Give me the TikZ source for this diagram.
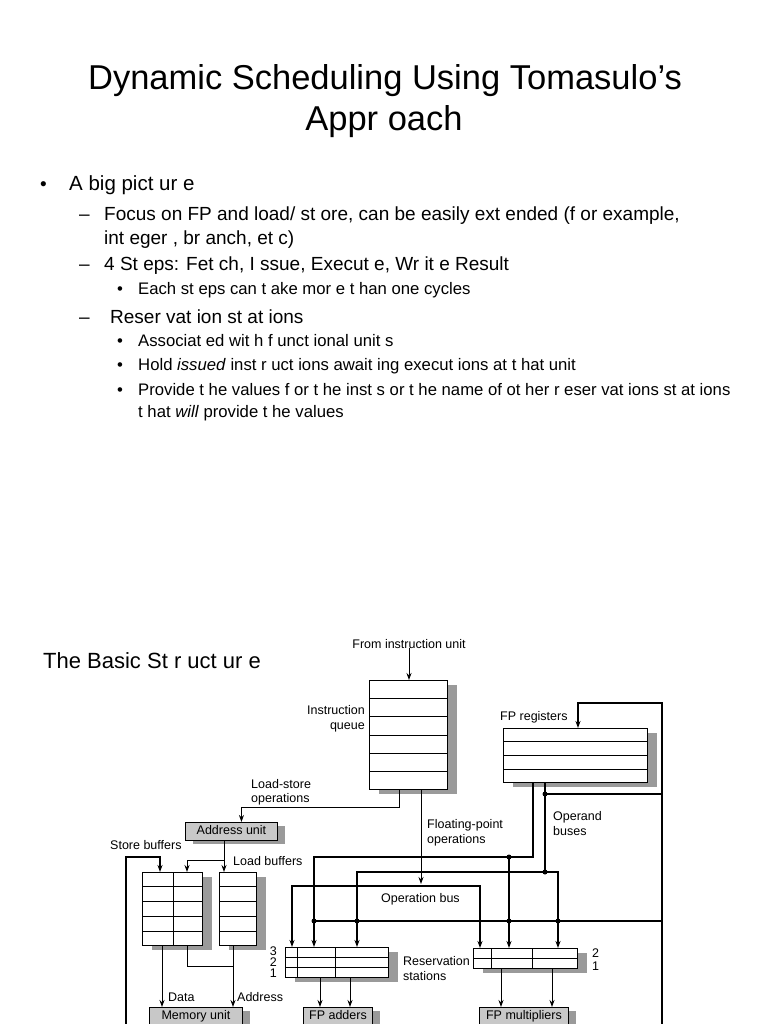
\documentclass[tikz,border=0pt]{standalone}
\usepackage{fontspec}
\setmainfont{Liberation Sans}
\usetikzlibrary{arrows.meta,calc,shadows}
\definecolor{unitgray}{HTML}{C8C8C8}
\definecolor{shadegray}{HTML}{9A9A9A}
\begin{document}
\begin{tikzpicture}[x=1pt,y=-1pt,
  titlef/.style={anchor=base, inner sep=0pt, font=\fontsize{34.5}{40}\selectfont},
  slide/.style={anchor=base west, inner sep=0pt, font=\fontsize{19}{22}\selectfont},
  subt/.style={anchor=base west, inner sep=0pt, font=\fontsize{16.7}{19}\selectfont},
  lab/.style={anchor=base west, inner sep=0pt, font=\fontsize{12.5}{14}\selectfont},
  labr/.style={lab, anchor=base east},
  labc/.style={lab, anchor=base},
  thinw/.style={line width=0.9pt},
  thickw/.style={line width=1.9pt},
  arr/.style={-{Stealth[length=7pt,width=5pt]}},
  barr/.style={{Stealth[length=7pt,width=5pt]}-{Stealth[length=7pt,width=5pt]}},
  regbox/.style={draw, line width=0.9pt, fill=white, inner sep=0pt, anchor=north west,
    drop shadow={shadow xshift=10pt, shadow yshift=-5pt, fill=shadegray, opacity=1}},
  unitbox/.style={draw, line width=0.9pt, fill=unitgray, inner sep=0pt, anchor=north west,
    font=\fontsize{12.5}{14}\selectfont, text height=9pt, text depth=3pt,
    drop shadow={shadow xshift=8pt, shadow yshift=-4pt, fill=shadegray, opacity=1}},
  dot/.style={circle, fill=black, inner sep=0pt, minimum size=5pt}
]
\useasboundingbox (0,0) rectangle (768,1024);
\clip (0,0) rectangle (768,1024);

% ---------------- slide text ----------------
\node[titlef] (title1) at (385,90) {Dynamic Scheduling Using Tomasulo’s};
\node[titlef] (title2) at (384,131) {Appr oach};

\node[slide] (b1) at (40,191) {•};
\node[slide, font=\fontsize{20.5}{24}\selectfont] (t1) at (69,191) {A big pict ur e};
\node[slide] (d1) at (79,221) {–};
\node[slide] (t2) at (104,221) {Focus on FP and load/ st ore, can be easily ext ended (f or example,};
\node[slide] (t3) at (104,244) {int eger , br anch, et c)};
\node[slide] (d2) at (79,270) {–};
\node[slide] (t4) at (104,270) {4 St eps: Fet ch, I ssue, Execut e, Wr it e Result};
\node[subt] (b2) at (117,294.5) {•};
\node[subt] (t5) at (138,294.5) {Each st eps can t ake mor e t han one cycles};
\node[slide] (d3) at (79,323) {–};
\node[slide] (t6) at (110,323) {Reser vat ion st at ions};
\node[subt] (b3) at (117,346.5) {•};
\node[subt] (t7) at (138,346.5) {Associat ed wit h f unct ional unit s};
\node[subt] (b4) at (117,370.5) {•};
\node[subt] (t8) at (138,370.5) {Hold \textit{issued} inst r uct ions await ing execut ions at t hat unit};
\node[subt] (b5) at (117,395.5) {•};
\node[subt] (t9) at (138,395.5) {Provide t he values f or t he inst s or t he name of ot her r eser vat ions st at ions};
\node[subt] (t10) at (138,417.5) {t hat \textit{will} provide t he values};

\node[slide, font=\fontsize{22}{26}\selectfont] (basic) at (43,668) {The Basic St r uct ur e};

% ---------------- boxes ----------------
\node[regbox, minimum width=78pt, minimum height=109pt] (iq) at (369,680) {};
\foreach \k in {1,...,5}
  \draw[thinw] ($(iq.north west)!\k/6!(iq.south west)$) -- ($(iq.north east)!\k/6!(iq.south east)$);

\node[regbox, minimum width=144pt, minimum height=54pt] (fpr) at (503,728) {};
\foreach \k in {1,...,3}
  \draw[thinw] ($(fpr.north west)!\k/4!(fpr.south west)$) -- ($(fpr.north east)!\k/4!(fpr.south east)$);

\node[unitbox, minimum width=92pt, minimum height=18pt] (adr) at (185,822) {Address unit};

\node[regbox, minimum width=60pt, minimum height=73pt] (sb) at (142,872) {};
\foreach \k in {1,...,4}
  \draw[thinw] ($(sb.north west)!\k/5!(sb.south west)$) -- ($(sb.north east)!\k/5!(sb.south east)$);
\draw[thinw] ($(sb.north west)+(31,0)$) -- ($(sb.south west)+(31,0)$);

\node[regbox, minimum width=37pt, minimum height=73pt] (lb) at (219,872) {};
\foreach \k in {1,...,4}
  \draw[thinw] ($(lb.north west)!\k/5!(lb.south west)$) -- ($(lb.north east)!\k/5!(lb.south east)$);

\node[unitbox, minimum width=93pt, minimum height=18pt] (mem) at (149,1007) {Memory unit};

\node[regbox, minimum width=103pt, minimum height=30pt] (rsa) at (285,947) {};
\foreach \k in {1,2}
  \draw[thinw] ($(rsa.north west)!\k/3!(rsa.south west)$) -- ($(rsa.north east)!\k/3!(rsa.south east)$);
\draw[thinw] ($(rsa.north west)+(12,0)$) -- ($(rsa.south west)+(12,0)$);
\draw[thinw] ($(rsa.north west)+(50,0)$) -- ($(rsa.south west)+(50,0)$);

\node[unitbox, minimum width=69pt, minimum height=18pt] (fpa) at (303,1007) {FP adders};

\node[regbox, minimum width=104pt, minimum height=20pt] (rsm) at (473,948) {};
\draw[thinw] ($(rsm.north west)!0.5!(rsm.south west)$) -- ($(rsm.north east)!0.5!(rsm.south east)$);
\draw[thinw] ($(rsm.north west)+(18,0)$) -- ($(rsm.south west)+(18,0)$);
\draw[thinw] ($(rsm.north west)+(59,0)$) -- ($(rsm.south west)+(59,0)$);

\node[unitbox, minimum width=89pt, minimum height=18pt] (fpm) at (479,1007) {FP multipliers};

% ---------------- labels ----------------
\node[labc] (fiu) at (409,648) {From instruction unit};
\node[labr] (iql1) at (365,714) {Instruction};
\node[labr] (iql2) at (365,729) {queue};
\node[lab] (fprl) at (500,720) {FP registers};
\node[lab] (lsl1) at (251,788) {Load-store};
\node[lab] (lsl2) at (251,802) {operations};
\node[lab] (sbl) at (110,849) {Store buffers};
\node[lab] (lbl) at (233,865) {Load buffers};
\node[lab] (fpl1) at (427,828) {Floating-point};
\node[lab] (fpl2) at (427,843) {operations};
\node[lab] (obl1) at (553,820) {Operand};
\node[lab] (obl2) at (553,835) {buses};
\node[lab] (opb) at (381,902) {Operation bus};
\node[lab] (rsl1) at (403,965) {Reservation};
\node[lab] (rsl2) at (403,980) {stations};
\node[labr] (ra3) at (277,955.5) {3};
\node[labr] (ra2) at (277,966.5) {2};
\node[labr] (ra1) at (277,977.5) {1};
\node[lab] (rm2) at (592,957.5) {2};
\node[lab] (rm1) at (592,970.5) {1};
\node[lab] (datal) at (168,1001) {Data};
\node[lab] (addrl) at (237,1001) {Address};

% ---------------- coordinates ----------------
\coordinate (ls1) at (399,807);
\coordinate (fpo) at (421,884);
\coordinate (ob1) at (292,886);
\coordinate (ob2) at (480,886);
\coordinate (o1L) at (314,857);
\coordinate (o1M) at (509,857);
\coordinate (o1R) at (533,857);
\coordinate (o2L) at (357,872);
\coordinate (o2M) at (545,872);
\coordinate (o2R) at (558,872);
\coordinate (cdbB) at (662,1030);
\coordinate (cdbT) at (662,703);
\coordinate (cdbF) at (578,703);
\coordinate (cdbJ) at (545,794);
\coordinate (cdbL) at (314,921);
\coordinate (cdbLB) at (126,1030);
\coordinate (sbc) at (160,857);
\coordinate (ad1) at (224,860);
\coordinate (ad2) at (187,860);
\coordinate (sdx) at (162,980);
\coordinate (sa1) at (187,966);
\coordinate (sa2) at (233,966);
\coordinate (rax1) at (320,990);
\coordinate (rax2) at (350,990);
\coordinate (rmx1) at (501,990);
\coordinate (rmx2) at (552,990);

% ---------------- connectors ----------------
\draw[thinw,arr] (fiu.south) -- (fiu.south |- iq.north);
\draw[thinw,arr] (iq.south -| ls1) -- (ls1) -| ($(adr.north)+(10,0)$);
\draw[thinw,arr] (iq.south -| fpo) -- (fpo);

\draw[thickw,barr] (ob1 |- rsa.north) -- (ob1) -- (ob2) -- (ob2 |- rsm.north);

\draw[thickw,arr] (fpr.south -| o1R) -- (o1R) -- (o1L) -- (o1L |- rsa.north);
\draw[thickw,arr] (o1M) -- (o1M |- rsm.north);

\draw[thickw] (fpr.south -| o2M) -- (o2M);
\draw[thickw,barr] (o2L |- rsa.north) -- (o2L) -- (o2R) -- (o2R |- rsm.north);

\draw[thickw,arr] (cdbB) -- (cdbT) -- (cdbF) -- (cdbF |- fpr.north);
\draw[thickw] (cdbJ) -- (cdbJ -| cdbT);
\draw[thickw] (cdbL) -- (cdbL -| cdbT);

\draw[thickw,arr] (cdbLB) |- (sbc) -- (sbc |- sb.north);

\draw[thinw,arr] (adr.south -| ad1) -- (ad1 |- lb.north);
\draw[thinw,arr] (ad1) -- (ad2) -- (ad2 |- sb.north);

\draw[thinw,arr] (sb.south -| sdx) -- (sdx |- mem.north);
\draw[thinw] (sb.south -| sa1) -- (sa1) -- (sa2);
\draw[thinw,arr] (lb.south -| sa2) -- (sa2 |- mem.north);

\draw[thinw,arr] (rsa.south -| rax1) -- (rax1 |- fpa.north);
\draw[thinw,arr] (rsa.south -| rax2) -- (rax2 |- fpa.north);
\draw[thinw,arr] (rsm.south -| rmx1) -- (rmx1 |- fpm.north);
\draw[thinw,arr] (rsm.south -| rmx2) -- (rmx2 |- fpm.north);

% junction dots
\node[dot] (j1) at (cdbJ) {};
\node[dot] (j2) at (o1M) {};
\node[dot] (j3) at (o2M) {};
\node[dot] (j4) at (cdbL) {};
\node[dot] (j5) at (357,921) {};
\node[dot] (j6) at (509,921) {};
\node[dot] (j7) at (558,921) {};
\end{tikzpicture}
\end{document}
